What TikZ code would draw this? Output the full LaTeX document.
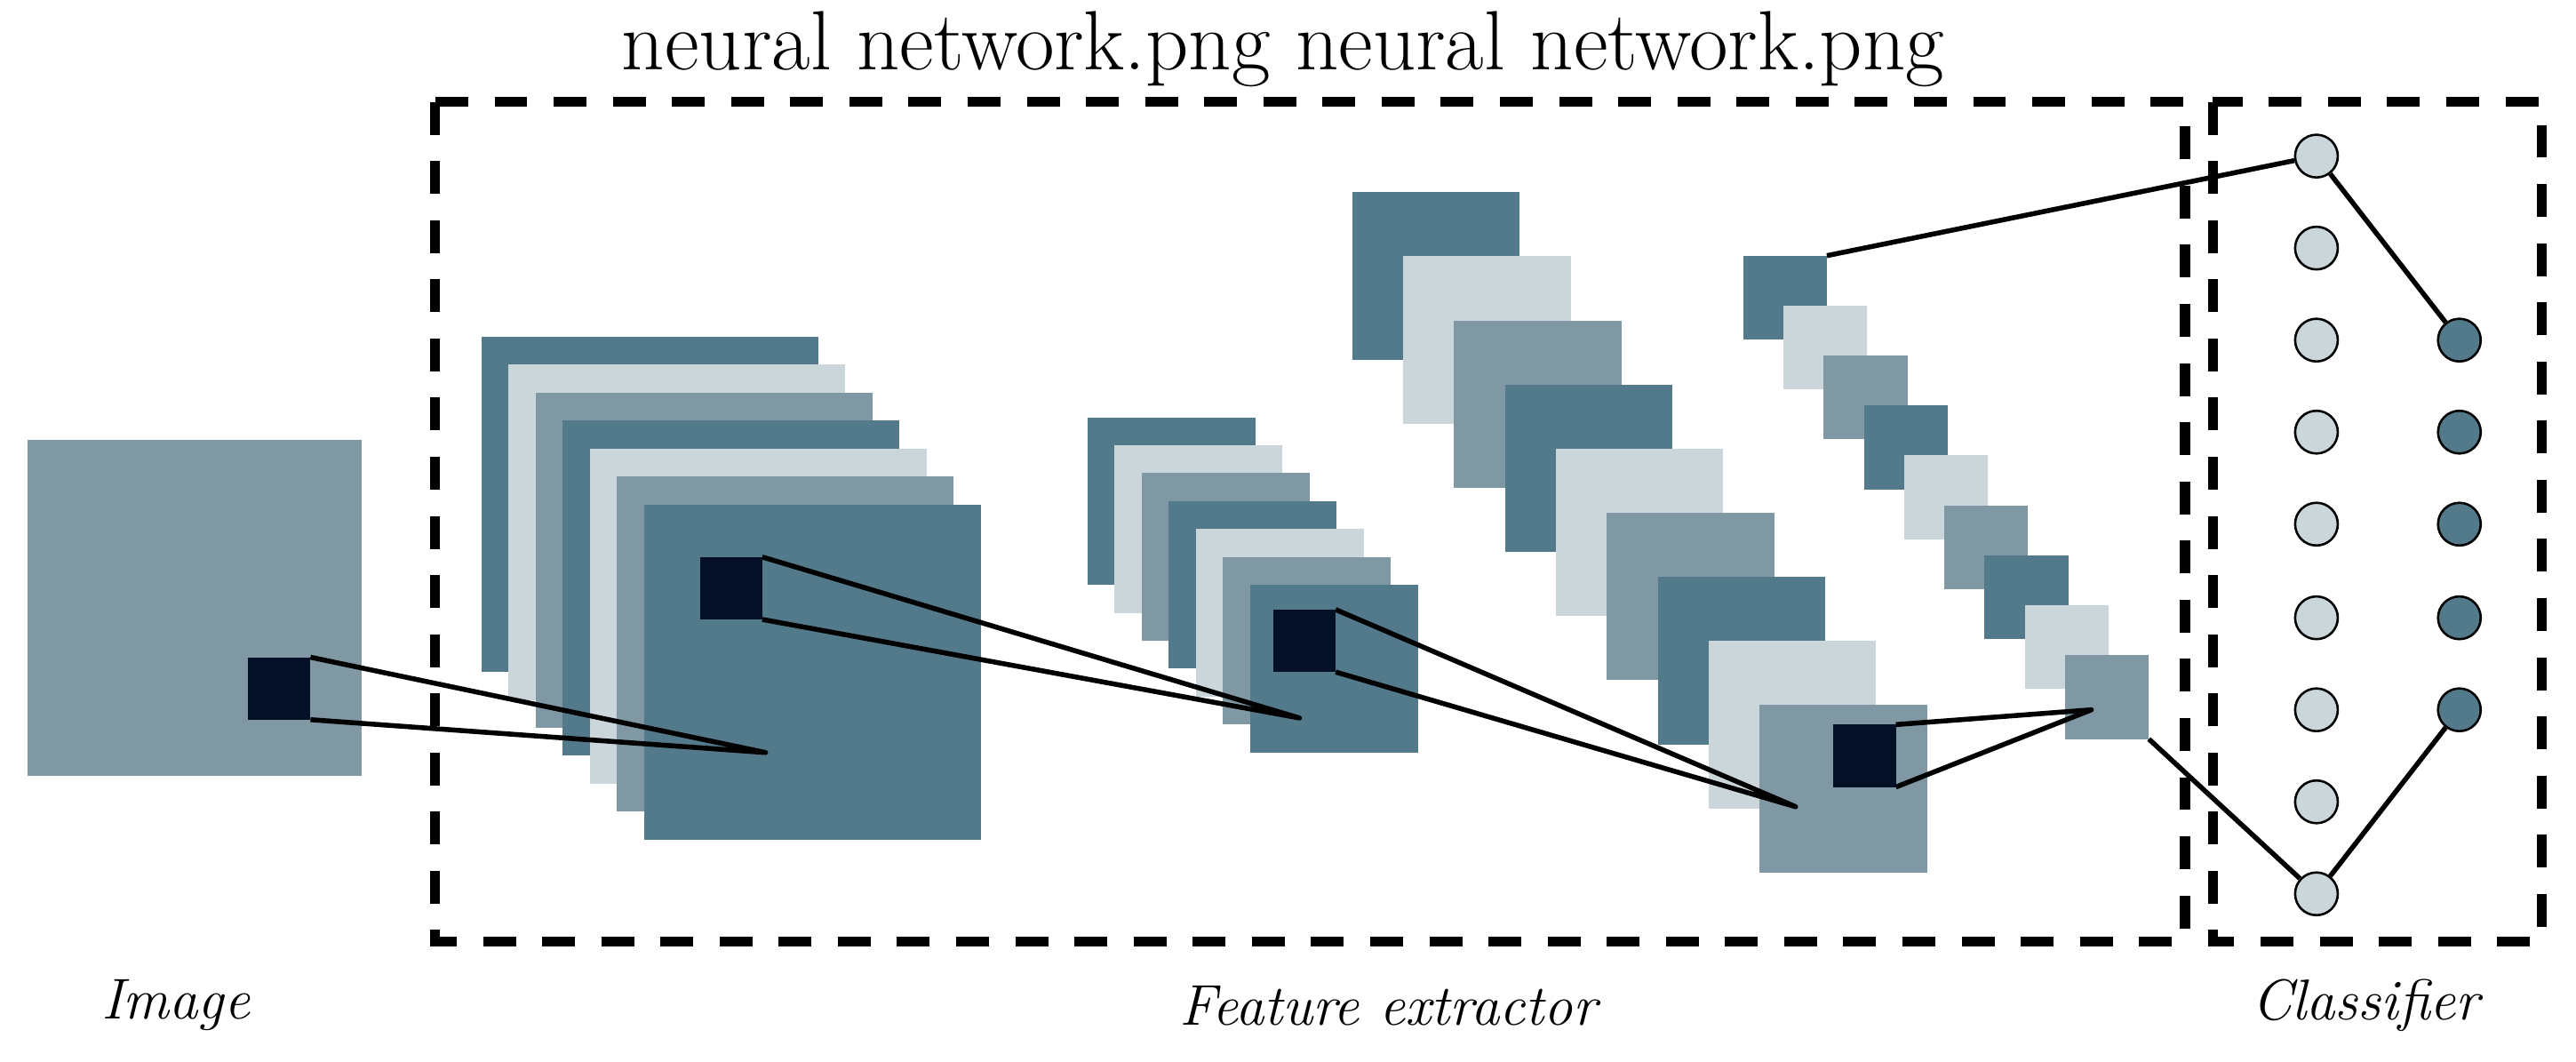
\documentclass[tikz,border=0pt]{standalone}
\begin{document}
\begin{tikzpicture}[x=0.5pt,y=-0.5pt]
\definecolor{cdark}{HTML}{537A8B}
\definecolor{clight}{HTML}{CAD6D9}
\definecolor{cmid}{HTML}{7F98A3}
\definecolor{cblack}{HTML}{041026}
\tikzset{
  sq/.style={anchor=north west,inner sep=0pt,outer sep=0pt,draw=none},
  hot/.style={sq,fill=cblack,minimum width=19pt,minimum height=19pt},
  conn/.style={line width=1.5pt,line join=round},
  frame/.style={line width=3pt,dash pattern=on 10pt off 8pt},
  neuron/.style={circle,draw=black,line width=0.7pt,minimum size=13pt,inner sep=0pt},
  lab/.style={font=\fontsize{17.5}{20}\selectfont\itshape}
}
\useasboundingbox (0,0) rectangle (1568,646);
\node[font=\fontsize{25.6}{29}\selectfont] (title) at (781,30) {neural network.png neural network.png};
% frames
\draw[frame] (265,62) rectangle (1330,573);
\draw[frame] (1347,62) rectangle (1547,573);
% image
\node[sq,fill=cmid,minimum width=101.5pt,minimum height=102pt] (img) at (17,268) {};
\node[hot] (h0) at (151,400) {};
% stack 1
\foreach \i/\c in {0/cdark,1/clight,2/cmid,3/cdark,4/clight,5/cmid,6/cdark}
  \node[sq,fill=\c,minimum width=102.5pt,minimum height=102pt] (a\i) at (293+16.5*\i,205+17*\i) {};
\node[hot] (h1) at (426,339) {};
% stack 2
\foreach \i/\c in {0/cdark,1/clight,2/cmid,3/cdark,4/clight,5/cmid,6/cdark}
  \node[sq,fill=\c,minimum width=51pt,minimum height=51pt] (b\i) at (662+16.5*\i,254+17*\i) {};
\node[hot] (h2) at (775,371) {};
% stack 3
\foreach \i/\c in {0/cdark,1/clight,2/cmid,3/cdark,4/clight,5/cmid,6/cdark,7/clight,8/cmid}
  \node[sq,fill=\c,minimum width=51pt,minimum height=51pt] (c\i) at (823+31*\i,117+39*\i) {};
\node[hot] (h3) at (1116,441) {};
% stack 4
\foreach \i/\c in {0/cdark,1/clight,2/cmid,3/cdark,4/clight,5/cmid,6/cdark,7/clight,8/cmid}
  \node[sq,fill=\c,minimum width=25.5pt,minimum height=25.5pt] (d\i) at (1061+24.5*\i,155.6+30.4*\i) {};
% target points
\coordinate (p1) at (466,458);
\coordinate (p2) at (791,437);
\coordinate (p3) at (1093,491);
\coordinate (p4) at (1273,432);
\draw[conn] (h0.north east) -- (p1) -- (h0.south east);
\draw[conn] (h1.north east) -- (p2) -- (h1.south east);
\draw[conn] (h2.north east) -- (p3) -- (h2.south east);
\draw[conn] (h3.north east) -- (p4) -- (h3.south east);
% neurons
\foreach \j/\y in {1/95,2/151,3/207,4/263,5/319,6/376,7/432,8/488,9/544}
  \node[neuron,fill=clight] (n\j) at (1410,\y) {};
\foreach \j/\y in {3/207,4/263,5/319,6/376,7/432}
  \node[neuron,fill=cdark] (m\j) at (1497,\y) {};
\draw[conn] (d0.north east) -- (n1);
\draw[conn] (d8.south east) -- (n9);
\draw[conn] (n1) -- (m3);
\draw[conn] (n9) -- (m7);
% labels
\node[lab] (l1) at (107,612) {Image};
\node[lab] (l2) at (845,612) {Feature extractor};
\node[lab] (l3) at (1440,612) {Classifier};
\end{tikzpicture}
\end{document}
